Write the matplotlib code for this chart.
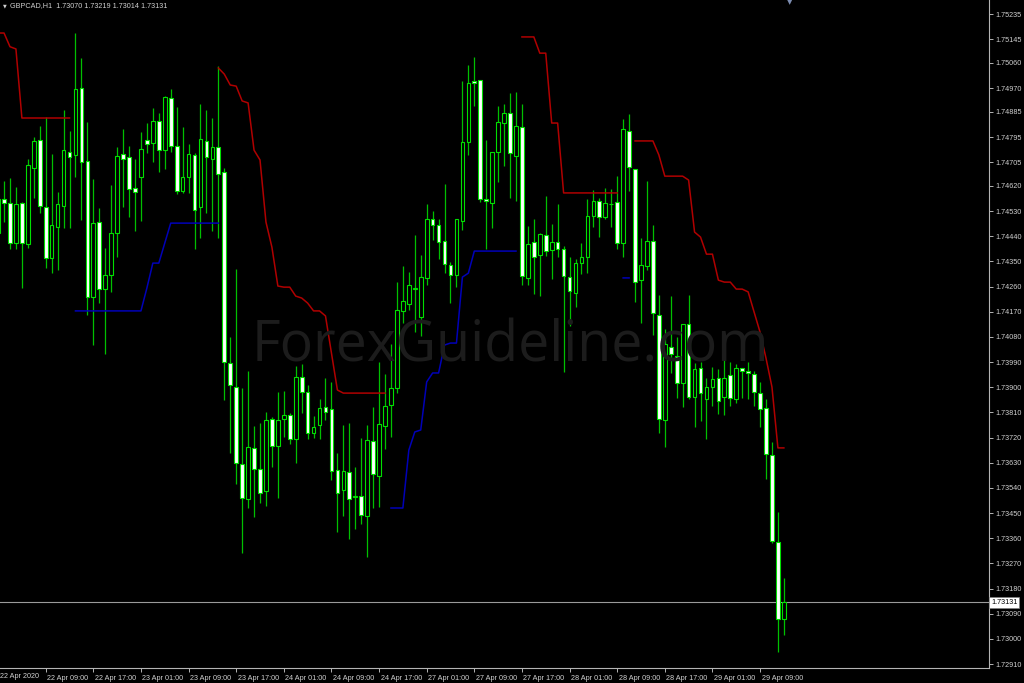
import numpy as np
import matplotlib
matplotlib.use("Agg")
import matplotlib.pyplot as plt
import matplotlib.transforms as mtransforms

# ---------------- data (GBPCAD, H1) ----------------
opens = [1.74452, 1.74573, 1.74559, 1.74416, 1.74559, 1.74412, 1.74684, 1.74784, 1.74545, 1.74362,
         1.74473, 1.74548, 1.74741, 1.74731, 1.74970, 1.74709, 1.74223, 1.74491, 1.74251, 1.74301,
         1.74452, 1.74734, 1.74723, 1.74613, 1.74652, 1.74784, 1.74773, 1.74852, 1.74748, 1.74934,
         1.74763, 1.74602, 1.74652, 1.74731, 1.74545, 1.74781, 1.74716, 1.74759, 1.74670, 1.73987,
         1.73901, 1.73625, 1.73500, 1.73683, 1.73607, 1.73529, 1.73786, 1.73690, 1.73786, 1.73801,
         1.73715, 1.73937, 1.73883, 1.73736, 1.73765, 1.73829, 1.73822, 1.73604, 1.73532, 1.73597,
         1.73507, 1.73511, 1.73439, 1.73708, 1.73582, 1.73761, 1.73836, 1.73897, 1.74173, 1.74198,
         1.74251, 1.74151, 1.74291, 1.74502, 1.74480, 1.74423, 1.74337, 1.74301, 1.74494, 1.74777,
         1.74995, 1.74999, 1.74573, 1.74559, 1.74741, 1.74845, 1.74881, 1.74727, 1.74831, 1.74291,
         1.74419, 1.74373, 1.74444, 1.74391, 1.74419, 1.74394, 1.74294, 1.74237, 1.74344, 1.74366,
         1.74512, 1.74566, 1.74509, 1.74555, 1.74562, 1.74416, 1.74816, 1.74680, 1.74283, 1.74334,
         1.74423, 1.74158, 1.73783, 1.74044, 1.74012, 1.73915, 1.74126, 1.73865, 1.73969, 1.73858,
         1.73901, 1.73933, 1.73865, 1.73944, 1.73858, 1.73969, 1.73958, 1.73947, 1.73879, 1.73826,
         1.73657, 1.73346, 1.73070]
highs = [1.74588, 1.74638, 1.74648, 1.74616, 1.74562, 1.74716, 1.74795, 1.74834, 1.74866, 1.74734,
         1.74598, 1.74892, 1.74816, 1.75167, 1.75078, 1.74849, 1.74645, 1.74541, 1.74398, 1.74623,
         1.74759, 1.74824, 1.74763, 1.74716, 1.74813, 1.74845, 1.74899, 1.74881, 1.74942, 1.74967,
         1.74902, 1.74831, 1.74770, 1.74738, 1.74913, 1.74892, 1.74863, 1.75049, 1.74684, 1.74080,
         1.74323, 1.73897, 1.73958, 1.73761, 1.73772, 1.73811, 1.73793, 1.73883, 1.73886, 1.73808,
         1.73976, 1.73983, 1.73908, 1.73797, 1.73858, 1.73933, 1.73919, 1.73665, 1.73765, 1.73772,
         1.73615, 1.73718, 1.73765, 1.73829, 1.73990, 1.73947, 1.74055, 1.74276, 1.74334, 1.74312,
         1.74444, 1.74373, 1.74555, 1.74530, 1.74502, 1.74627, 1.74348, 1.74502, 1.74995, 1.75052,
         1.75081, 1.74999, 1.74784, 1.74741, 1.74906, 1.74913, 1.74952, 1.74956, 1.74913, 1.74477,
         1.74502, 1.74452, 1.74584, 1.74484, 1.74555, 1.74405, 1.74366, 1.74359, 1.74416, 1.74573,
         1.74605, 1.74577, 1.74613, 1.74609, 1.74655, 1.74859, 1.74877, 1.74680, 1.74434, 1.74638,
         1.74480, 1.74230, 1.74108, 1.74226, 1.74080, 1.74126, 1.74230, 1.73987, 1.73990, 1.73933,
         1.73972, 1.73965, 1.74026, 1.73990, 1.73983, 1.73969, 1.73990, 1.73958, 1.73919, 1.73858,
         1.73704, 1.73454, 1.73219]
lows = [1.74444, 1.74491, 1.74394, 1.74394, 1.74255, 1.74398, 1.74577, 1.74523, 1.74326, 1.74308,
        1.74319, 1.74469, 1.74469, 1.74652, 1.74498, 1.74158, 1.74051, 1.74201, 1.74019, 1.74241,
        1.74366, 1.74545, 1.74509, 1.74459, 1.74494, 1.74738, 1.74706, 1.74670, 1.74680, 1.74741,
        1.74591, 1.74595, 1.74595, 1.74394, 1.74434, 1.74523, 1.74459, 1.74434, 1.73854, 1.73665,
        1.73554, 1.73307, 1.73468, 1.73436, 1.73486, 1.73475, 1.73615, 1.73504, 1.73722, 1.73697,
        1.73629, 1.73808, 1.73715, 1.73718, 1.73715, 1.73783, 1.73568, 1.73382, 1.73439, 1.73357,
        1.73393, 1.73411, 1.73293, 1.73468, 1.73471, 1.73679, 1.73722, 1.73879, 1.74130, 1.74176,
        1.74097, 1.74083, 1.74266, 1.74427, 1.74359, 1.74308, 1.74201, 1.74258, 1.74462, 1.74731,
        1.74906, 1.74562, 1.74394, 1.74469, 1.74634, 1.74691, 1.74577, 1.74566, 1.74266, 1.74266,
        1.74233, 1.74226, 1.74369, 1.74287, 1.74366, 1.73954, 1.74119, 1.74187, 1.74305, 1.74308,
        1.74473, 1.74437, 1.74502, 1.74473, 1.74394, 1.74366, 1.74602, 1.74205, 1.74130, 1.74319,
        1.74087, 1.73736, 1.73686, 1.73951, 1.73861, 1.73829, 1.73858, 1.73758, 1.73779, 1.73715,
        1.73833, 1.73804, 1.73801, 1.73833, 1.73843, 1.73861, 1.73858, 1.73833, 1.73758, 1.73572,
        1.73343, 1.72953, 1.73014]
closes = [1.74573, 1.74559, 1.74416, 1.74555, 1.74416, 1.74695, 1.74781, 1.74548, 1.74362, 1.74480,
          1.74555, 1.74748, 1.74723, 1.74967, 1.74706, 1.74223, 1.74487, 1.74251, 1.74301, 1.74452,
          1.74727, 1.74716, 1.74609, 1.74598, 1.74752, 1.74770, 1.74852, 1.74748, 1.74938, 1.74763,
          1.74602, 1.74652, 1.74734, 1.74534, 1.74788, 1.74723, 1.74759, 1.74663, 1.73990, 1.73908,
          1.73629, 1.73504, 1.73686, 1.73607, 1.73522, 1.73783, 1.73690, 1.73783, 1.73801, 1.73715,
          1.73937, 1.73883, 1.73736, 1.73758, 1.73826, 1.73811, 1.73600, 1.73522, 1.73600, 1.73500,
          1.73511, 1.73443, 1.73711, 1.73590, 1.73768, 1.73833, 1.73897, 1.74176, 1.74208, 1.74266,
          1.74255, 1.74294, 1.74502, 1.74480, 1.74419, 1.74341, 1.74301, 1.74502, 1.74777, 1.74988,
          1.74988, 1.74573, 1.74566, 1.74741, 1.74849, 1.74881, 1.74738, 1.74834, 1.74298, 1.74412,
          1.74366, 1.74448, 1.74387, 1.74419, 1.74394, 1.74298, 1.74244, 1.74344, 1.74366, 1.74512,
          1.74566, 1.74509, 1.74559, 1.74556, 1.74416, 1.74824, 1.74688, 1.74276, 1.74337, 1.74423,
          1.74165, 1.73786, 1.74055, 1.74019, 1.73915, 1.74126, 1.73865, 1.73965, 1.73879, 1.73901,
          1.73929, 1.73851, 1.73933, 1.73861, 1.73969, 1.73958, 1.73951, 1.73883, 1.73822, 1.73661,
          1.73350, 1.73071, 1.73131]

N = None
trail_red = [1.75167, 1.75167, 1.75118, 1.75110, 1.74863, 1.74863, 1.74863, 1.74863, 1.74863, 1.74863,
             1.74863, 1.74863, 1.74863, N, N, N, N, N, N, N,
             N, N, N, N, N, N, N, N, N, N,
             N, N, N, N, N, N, N, 1.75042, 1.75020, 1.74981,
             1.74977, 1.74924, 1.74917, 1.74748, 1.74713, 1.74491, 1.74401, 1.74262, 1.74258, 1.74258,
             1.74226, 1.74219, 1.74201, 1.74173, 1.74173, 1.74155, 1.74022, 1.73890, 1.73879, 1.73879,
             1.73879, 1.73879, 1.73879, 1.73879, 1.73879, 1.73879, N, N, N, N,
             N, N, N, N, N, N, N, N, N, N,
             N, N, N, N, N, N, N, N, 1.75153, 1.75153,
             1.75153, 1.75095, 1.75095, 1.74845, 1.74845, 1.74595, 1.74595, 1.74595, 1.74595, 1.74595,
             1.74595, 1.74595, 1.74595, 1.74595, 1.74595, N, N, 1.74781, 1.74781, 1.74781,
             1.74781, 1.74731, 1.74655, 1.74655, 1.74655, 1.74655, 1.74641, 1.74455, 1.74437, 1.74376,
             1.74376, 1.74283, 1.74276, 1.74276, 1.74251, 1.74251, 1.74241, 1.74169, 1.74097, 1.74004,
             1.73901, 1.73683, 1.73683]
trail_blue = [N, N, N, N, N, N, N, N, N, N,
              N, N, N, 1.74173, 1.74173, 1.74173, 1.74173, 1.74173, 1.74173, 1.74173,
              1.74173, 1.74173, 1.74173, 1.74173, 1.74173, 1.74255, 1.74344, 1.74344, 1.74416, 1.74487,
              1.74487, 1.74487, 1.74487, 1.74487, 1.74487, 1.74487, 1.74487, 1.74487, N, N,
              N, N, N, N, N, N, N, N, N, N,
              N, N, N, N, N, N, N, N, N, N,
              N, N, N, N, N, N, 1.73468, 1.73468, 1.73468, 1.73675,
              1.73740, 1.73747, 1.73919, 1.73951, 1.73951, 1.74051, 1.74058, 1.74058, 1.74294, 1.74308,
              1.74387, 1.74387, 1.74387, 1.74387, 1.74387, 1.74387, 1.74387, 1.74387, N, N,
              N, N, N, N, N, N, N, N, N, N,
              N, N, N, N, N, 1.74291, 1.74291, N, N, N,
              N, N, N, N, N, N, N, N, N, N,
              N, N, N, N, N, N, N, N, N, N,
              N, N, N]

price_ticks = ["1.75235", "1.75145", "1.75060", "1.74970", "1.74885", "1.74795", "1.74705",
               "1.74620", "1.74530", "1.74440", "1.74350", "1.74260", "1.74170", "1.74080",
               "1.73990", "1.73900", "1.73810", "1.73720", "1.73630", "1.73540", "1.73450",
               "1.73360", "1.73270", "1.73180", "1.73090", "1.73000", "1.72910"]
time_labels = ["22 Apr 09:00", "22 Apr 17:00", "23 Apr 01:00", "23 Apr 09:00", "23 Apr 17:00",
               "24 Apr 01:00", "24 Apr 09:00", "24 Apr 17:00", "27 Apr 01:00", "27 Apr 09:00",
               "27 Apr 17:00", "28 Apr 01:00", "28 Apr 09:00", "28 Apr 17:00", "29 Apr 01:00",
               "29 Apr 09:00"]
first_label = "22 Apr 2020"
symbol = "GBPCAD,H1"
last_price = 1.73131

# ---------------- figure ----------------
W, H = 1024, 683
fig = plt.figure(figsize=(W / 100, H / 100), dpi=100, facecolor="black")
ax = fig.add_axes([0, 15 / H, 989 / W, 668 / H], facecolor="black")

o = np.array(opens); h = np.array(highs); l = np.array(lows); c = np.array(closes)
x = np.arange(len(o))

wick_col = "#00C000"
edge_col = "#00E000"

ax.vlines(x, l, h, color=wick_col, lw=0.9, zorder=2)
bear = c < o
bottoms = np.minimum(o, c)
heights = np.maximum(np.abs(c - o), 0.000015)
ax.bar(x, heights, bottom=bottoms, width=0.62,
       color=np.where(bear, "white", "black"), edgecolor=edge_col, linewidth=0.8, zorder=3)

red = np.array([np.nan if v is None else v for v in trail_red], dtype=float)
blue = np.array([np.nan if v is None else v for v in trail_blue], dtype=float)
ax.plot(x, red, color="#B00000", lw=1.1, zorder=4)
ax.plot(x, blue, color="#0000B8", lw=1.1, zorder=4)

# current price line
ax.axhline(last_price, color="#9A9A9A", lw=0.8, zorder=1)

# scales
ax.set_xlim(0.323, 166.46)
ax.set_ylim(1.728957, 1.752851)

for s in ["top", "left"]:
    ax.spines[s].set_visible(False)
for s in ["right", "bottom"]:
    ax.spines[s].set_color("#B4B4B4")
    ax.spines[s].set_linewidth(0.8)

ax.yaxis.tick_right()
ax.set_yticks([float(t) for t in price_ticks])
ax.set_yticklabels(price_ticks)
ax.tick_params(axis="y", colors="#B4B4B4", labelcolor="#D0D0D0", labelsize=5.2,
               length=3, width=0.7, pad=1.5, direction="out")
for lab in ax.get_yticklabels():
    lab.set_family("Liberation Sans")

xt = [8 + 8 * i for i in range(len(time_labels))]
ax.set_xticks(xt)
ax.set_xticklabels(time_labels)
ax.tick_params(axis="x", colors="#B4B4B4", labelcolor="#D0D0D0", labelsize=5.2,
               length=3, width=0.7, pad=2, direction="out")
offs = mtransforms.ScaledTranslation(1.5 / 100, 0, fig.dpi_scale_trans)
for lab in ax.get_xticklabels():
    lab.set_family("Liberation Sans")
    lab.set_ha("left")
    lab.set_transform(lab.get_transform() + offs)

fig.text(0.5 / W, 1 - 676 / H, first_label, color="#D0D0D0", fontsize=5.2,
         family="Liberation Sans", ha="left", va="center")

# price label box
ax.text(1.0 + 2 / 989, last_price, f"{last_price:.5f}", transform=ax.get_yaxis_transform(),
        fontsize=5.2, family="Liberation Sans", color="black", ha="left", va="center",
        bbox=dict(boxstyle="square,pad=0.25", facecolor="white", edgecolor="#808080", lw=0.5),
        zorder=10, clip_on=False)

# header
fig.text(3 / W, 1 - 6 / H, "\u25BC", color="#D0D0D0", fontsize=3.5, family="DejaVu Sans",
         ha="left", va="center")
fig.text(10 / W, 1 - 6 / H,
         f"{symbol}  {opens[-1]:.5f} {highs[-1]:.5f} {lows[-1]:.5f} {closes[-1]:.5f}",
         color="#D0D0D0", fontsize=5.2, family="Liberation Sans", ha="left", va="center")
fig.text(790 / W, 1 - 2 / H, "\u25BC", color="#7C8CB0", fontsize=5, family="DejaVu Sans",
         ha="center", va="center")

# watermark
fig.text(510.5 / W, 1 - 362 / H, "ForexGuideline.com", color="#1C1C1C", fontsize=40,
         family="Open Sans", ha="center", va="baseline", zorder=0)

fig.savefig("out.png", dpi=100, facecolor="black")
